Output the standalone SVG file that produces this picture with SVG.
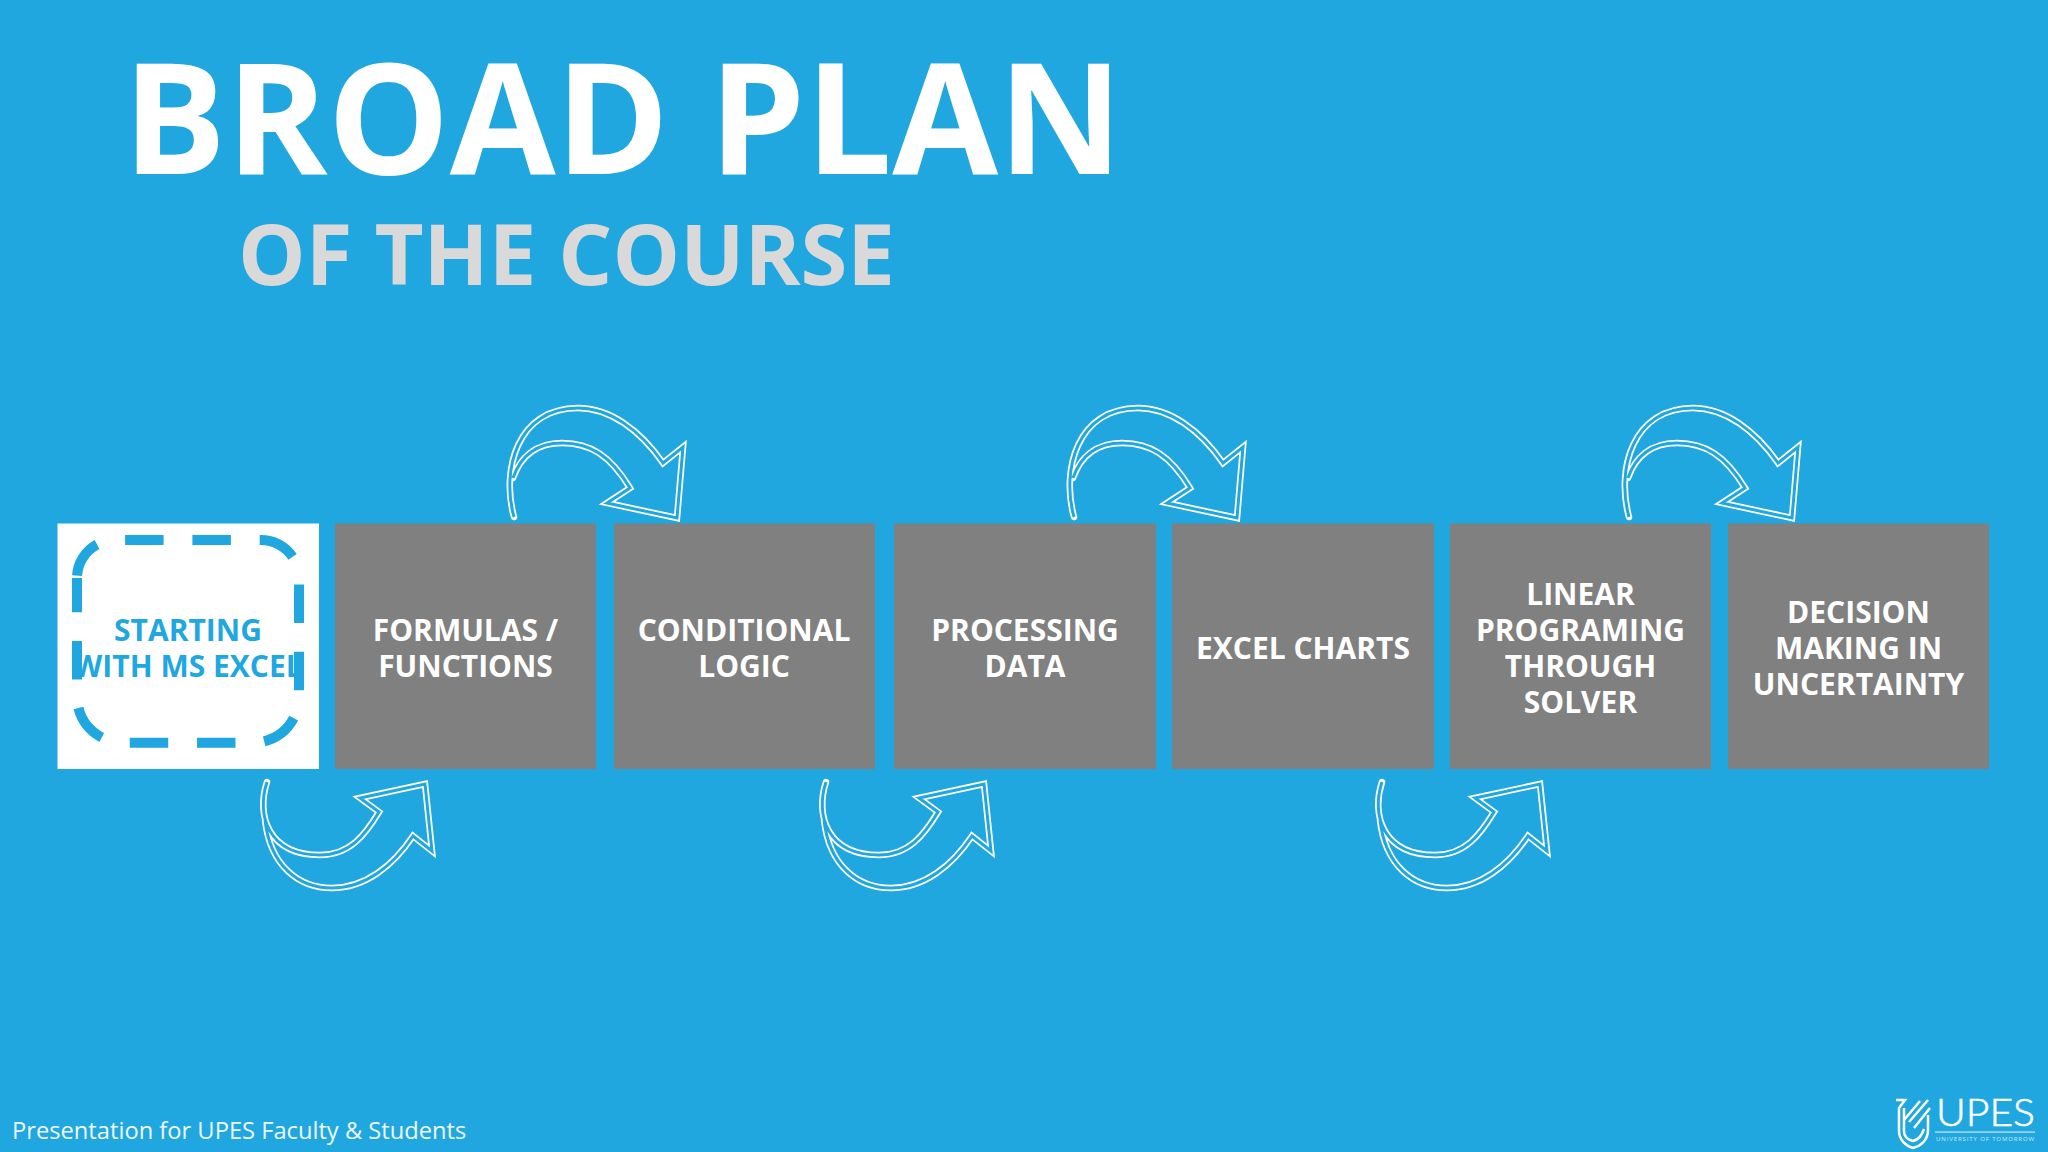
<svg xmlns="http://www.w3.org/2000/svg" xmlns:xlink="http://www.w3.org/1999/xlink" width="2048" height="1152" viewBox="0 0 2048 1152">
<style>
text{font-family:"Open Sans","Noto Sans","Liberation Sans",sans-serif;font-weight:700}
.box{fill:#808080}
.lbl{font-size:30px;fill:#fff;text-anchor:middle}
.lo{fill:none;stroke:#fff;stroke-width:6.500;stroke-linejoin:miter;stroke-miterlimit:10;stroke-linecap:round}
.li{fill:none;stroke:#21a7df;stroke-width:3;stroke-linejoin:miter;stroke-miterlimit:10}
</style>
<defs>
<path id="pd" d="M514,517 C501,470 517,408 578,408 C610,408 640,430 663,463 L683,447 L677,518 L607,503 L630,488 C610,455 590,443 562,443 C535,443 520,458 513,478"/>
<path id="pu" d="M267,782 C256,815 268,855 320,855 C350,855 365,835 379,812 L360,798 L425,784 L432,851 L413,836 C393,866 365,888 332,888 C298,888 270,865 265,820"/>
<g id="arrowDown"><use xlink:href="#pd" class="lo"/><use xlink:href="#pd" class="li"/></g>
<g id="arrowUp"><use xlink:href="#pu" class="lo"/><use xlink:href="#pu" class="li"/></g>
</defs>
<rect width="2048" height="1152" fill="#21a7df"/>
<text x="123" y="174" font-size="153.500" fill="#fff">BROAD PLAN</text>
<text x="238" y="285" font-size="85" fill="#d9d9d9">OF THE COURSE</text>
<g id="connectors">
<use xlink:href="#arrowDown"/><use xlink:href="#arrowDown" x="560"/><use xlink:href="#arrowDown" x="1115"/>
<use xlink:href="#arrowUp"/><use xlink:href="#arrowUp" x="559"/><use xlink:href="#arrowUp" x="1115"/>
</g>
<g id="n1"><rect x="57.500" y="523.500" width="261.500" height="245.500" fill="#fff"/>
<path d="M77,578 A38,38 0 0 1 115,540 H261 A38,38 0 0 1 299,578 V696.700 A46,46 0 0 1 253,742.700 H123 A46,46 0 0 1 77,696.700 Z" fill="none" stroke="#21a7df" stroke-width="10" stroke-dasharray="38.500 28.800" stroke-dashoffset="-2.400"/>
<text class="lbl" style="fill:#21a7df" x="188" y="641">STARTING</text><text class="lbl" style="fill:#21a7df" x="188" y="677">WITH MS EXCEL</text></g>
<g id="n2"><rect class="box" x="335" y="523.500" width="261" height="245.500"/><text class="lbl" x="465.500" y="641">FORMULAS /</text><text class="lbl" x="465.500" y="677">FUNCTIONS</text></g>
<g id="n3"><rect class="box" x="614" y="523.500" width="261" height="245.500"/><text class="lbl" x="744" y="641">CONDITIONAL</text><text class="lbl" x="744" y="677">LOGIC</text></g>
<g id="n4"><rect class="box" x="894" y="523.500" width="262" height="245.500"/><text class="lbl" x="1025" y="641">PROCESSING</text><text class="lbl" x="1025" y="677">DATA</text></g>
<g id="n5"><rect class="box" x="1172" y="523.500" width="262" height="245.500"/><text class="lbl" x="1303" y="659">EXCEL CHARTS</text></g>
<g id="n6"><rect class="box" x="1450" y="523.500" width="261" height="245.500"/><text class="lbl" x="1580.500" y="605">LINEAR</text><text class="lbl" x="1580.500" y="641">PROGRAMING</text><text class="lbl" x="1580.500" y="677">THROUGH</text><text class="lbl" x="1580.500" y="713">SOLVER</text></g>
<g id="n7"><rect class="box" x="1728" y="523.500" width="261" height="245.500"/><text class="lbl" x="1858.500" y="623">DECISION</text><text class="lbl" x="1858.500" y="659">MAKING IN</text><text class="lbl" x="1858.500" y="695">UNCERTAINTY</text></g>
<text x="12" y="1139" font-size="23.700" fill="#eef7fc" style="font-weight:400">Presentation for UPES Faculty &amp; Students</text>
<g id="logo">
<path d="M1896,1100 H1905 L1899,1108 V1131 C1899,1140 1906,1146 1913,1148 C1921,1146 1928,1140 1928,1130 V1115 M1904,1108 V1131 C1904,1137 1909,1140 1913,1141 C1918,1140 1922,1135 1924,1129" fill="none" stroke="#fff" stroke-width="2.500"/>
<path d="M1909,1122 L1928,1100 M1914,1128 L1930,1108 M1904,1120 L1920,1101" fill="none" stroke="#fff" stroke-width="2.500"/>
<text x="1936" y="1126" font-size="38" fill="#fff" stroke="#fff" stroke-width=".6" textLength="99" lengthAdjust="spacingAndGlyphs" style="font-family:Lato,sans-serif;font-weight:300">UPES</text>
<rect x="1935" y="1131.500" width="100" height="1.200" fill="#cfe9f7"/>
<text x="1936" y="1141" font-size="6" fill="#cfe9f7" textLength="98" style="font-weight:400">UNIVERSITY OF TOMORROW</text>
</g>
</svg>
